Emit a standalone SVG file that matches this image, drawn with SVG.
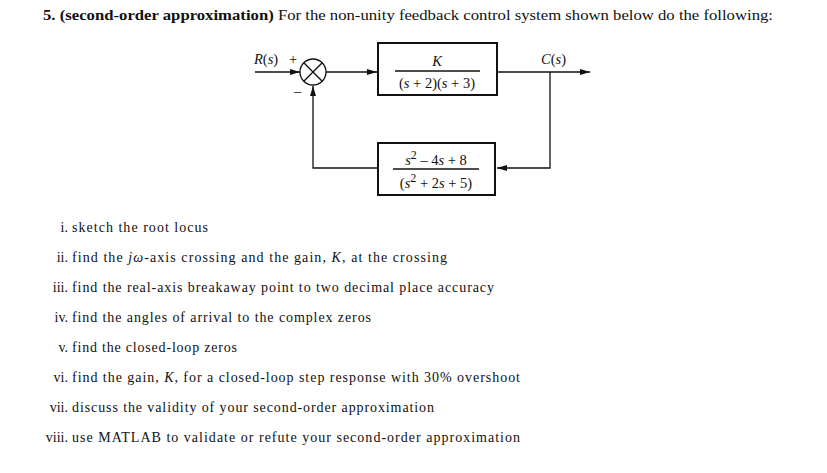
<svg xmlns="http://www.w3.org/2000/svg" width="827" height="473" viewBox="0 0 827 473">
<defs><marker id="ah" markerWidth="10" markerHeight="6" refX="10" refY="3" orient="auto" markerUnits="userSpaceOnUse"><path d="M0,0L10,3L0,6Z" fill="#111"/></marker></defs>
<style>text{font-family:"Liberation Serif",serif;fill:#111}.t{font-size:14px}.d{font-size:14.5px}.i{font-style:italic}line,polyline{stroke:#111;stroke-width:1.3;fill:none}.box{fill:#fff;stroke:#111;stroke-width:2}</style>
<rect width="827" height="473" fill="#fff"/>
<text class="t" x="43" y="20" textLength="730" lengthAdjust="spacingAndGlyphs"><tspan font-weight="bold">5. (second-order approximation)</tspan> For the non-unity feedback control system shown below do the following:</text>
<g id="connectors">
<line x1="255" y1="72" x2="300" y2="72" marker-end="url(#ah)"/>
<line x1="326" y1="72" x2="377" y2="72" marker-end="url(#ah)"/>
<line x1="497" y1="72" x2="590" y2="72" marker-end="url(#ah)"/>
<polyline points="550,72 550,168 497,168" marker-end="url(#ah)"/>
<polyline points="378,168 313,168 313,86" marker-end="url(#ah)"/>
</g>
<g id="sum"><circle cx="313" cy="72" r="13" fill="#fff" stroke="#111" stroke-width="1.3"/><line x1="303.8" y1="62.8" x2="322.2" y2="81.2"/><line x1="322.2" y1="62.8" x2="303.8" y2="81.2"/>
<text class="d" x="289" y="64">+</text><text class="d" x="294" y="96">–</text></g>
<text class="d" x="254" y="64"><tspan class="i">R</tspan>(<tspan class="i">s</tspan>)</text>
<text class="d" x="541" y="64"><tspan class="i">C</tspan>(<tspan class="i">s</tspan>)</text>
<g id="G"><rect class="box" x="378" y="43" width="119" height="52"/>
<text class="d i" x="437" y="66" text-anchor="middle">K</text><line x1="395" y1="71" x2="480" y2="71"/>
<text class="d" x="437" y="88" text-anchor="middle">(<tspan class="i">s</tspan> + 2)(<tspan class="i">s</tspan> + 3)</text></g>
<g id="H"><rect class="box" x="378" y="143" width="117" height="52"/>
<text class="d" x="436" y="165" text-anchor="middle"><tspan class="i">s</tspan><tspan dy="-6" font-size="12">2</tspan><tspan dy="6"> – 4</tspan><tspan class="i">s</tspan> + 8</text><line x1="393" y1="169" x2="479" y2="169"/>
<text class="d" x="436" y="188" text-anchor="middle">(<tspan class="i">s</tspan><tspan dy="-6" font-size="12">2</tspan><tspan dy="6"> + 2</tspan><tspan class="i">s</tspan> + 5)</text></g>
<g class="t" text-anchor="end">
<text x="68" y="232">i.</text><text x="68" y="262">ii.</text><text x="68" y="292">iii.</text><text x="68" y="322">iv.</text><text x="68" y="352">v.</text><text x="68" y="382">vi.</text><text x="68" y="412">vii.</text><text x="68" y="442">viii.</text></g>
<g class="t">
<text x="72" y="232" textLength="136">sketch the root locus</text>
<text x="72" y="262" textLength="375">find the <tspan class="i">jω</tspan>-axis crossing and the gain, <tspan class="i">K</tspan>, at the crossing</text>
<text x="72" y="292" textLength="422">find the real-axis breakaway point to two decimal place accuracy</text>
<text x="72" y="322" textLength="299">find the angles of arrival to the complex zeros</text>
<text x="72" y="352" textLength="165">find the closed-loop zeros</text>
<text x="72" y="382" textLength="448">find the gain, <tspan class="i">K</tspan>, for a closed-loop step response with 30% overshoot</text>
<text x="72" y="412" textLength="362">discuss the validity of your second-order approximation</text>
<text x="72" y="442" textLength="448">use MATLAB to validate or refute your second-order approximation</text>
</g>
</svg>
